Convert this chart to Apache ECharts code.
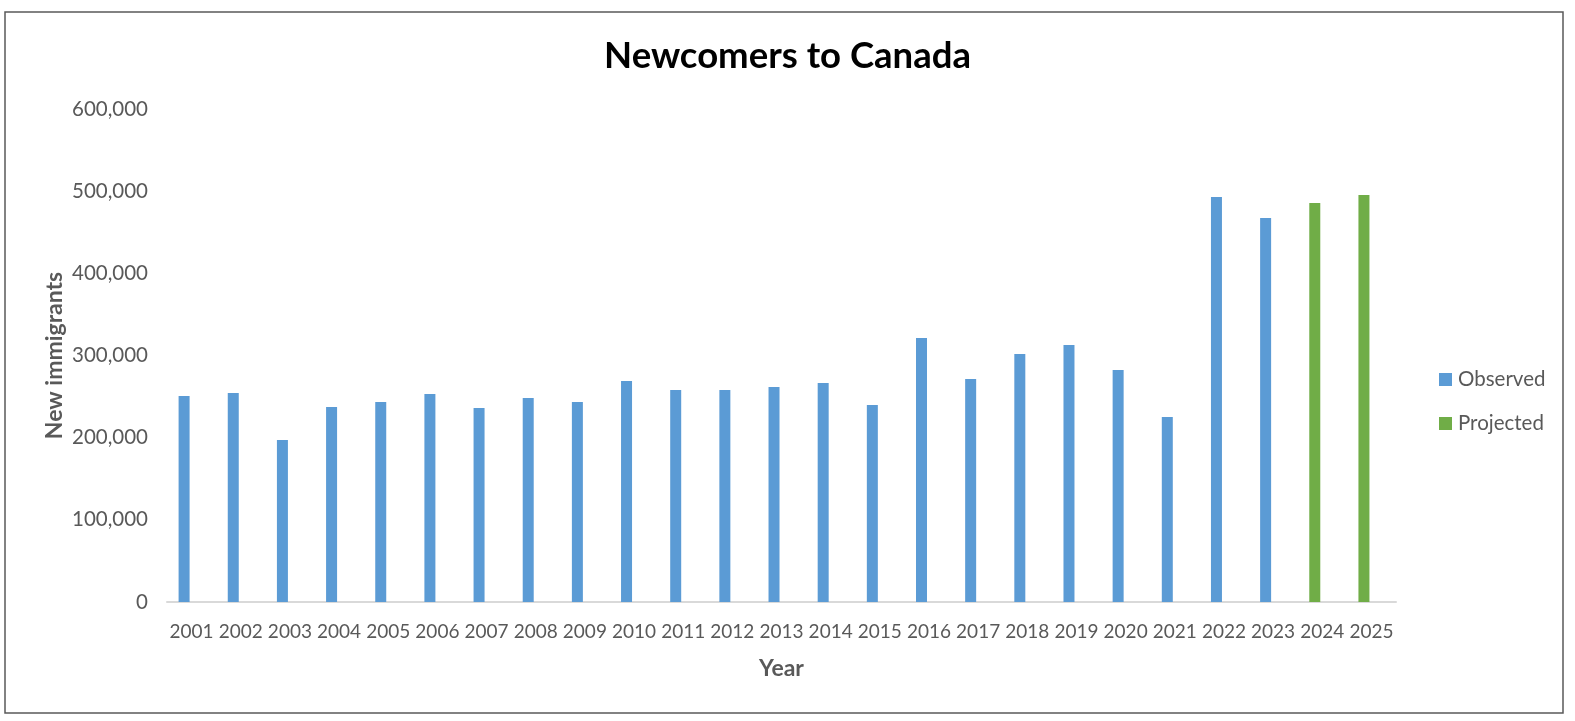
<!DOCTYPE html>
<html>
<head>
<meta charset="utf-8">
<script src="https://cdn.jsdelivr.net/npm/echarts@6/dist/echarts.min.js"></script>
<style>
html,body{margin:0;padding:0;background:#fff;}
#chart{width:1575px;height:721px;}
</style>
</head>
<body>
<div id="chart"></div>
<script>
const years = ['2001','2002','2003','2004','2005','2006','2007','2008','2009','2010','2011','2012','2013','2014','2015','2016','2017','2018','2019','2020','2021','2022','2023','2024','2025'];
const observed = [250700,254400,197200,237300,243400,253100,236100,248300,243400,269000,258000,258000,261700,266500,239700,321300,271400,301800,312800,282300,225100,492900,467300,null,null];
const projected = [null,null,null,null,null,null,null,null,null,null,null,null,null,null,null,null,null,null,null,null,null,null,null,485600,495300];
const yTicks = [0,100000,200000,300000,400000,500000,600000];

const chart = echarts.init(document.getElementById('chart'));
const fontFamily = 'Lato, "Open Sans", sans-serif';
chart.setOption({
  animation:false,
  textStyle:{fontFamily:fontFamily},
  title:{
    text:'Newcomers to Canada',
    left:'center', top:33,
    textStyle:{fontFamily:fontFamily,fontSize:36.5,fontWeight:'bold',color:'#000'}
  },
  graphic:[{
    type:'rect', silent:true,
    shape:{x:5,y:12,width:1558,height:701},
    style:{fill:'none',stroke:'#595959',lineWidth:1.5}
  }],
  legend:{
    orient:'vertical', left:1434, top:364,
    itemWidth:13, itemHeight:13, itemGap:23,
    icon:'rect',
    data:['Observed','Projected'],
    textStyle:{fontFamily:fontFamily,fontSize:20.5,color:'#595959',padding:[0,0,0,1]}
  },
  grid:{left:167,right:179,top:109,bottom:119,containLabel:false},
  xAxis:{
    type:'category', data:years,
    name:'Year', nameLocation:'middle', nameGap:55,
    nameTextStyle:{fontFamily:fontFamily,fontSize:23,fontWeight:'bold',color:'#595959'},
    axisLine:{lineStyle:{color:'#d9d9d9',width:2}},
    axisTick:{show:false},
    axisLabel:{fontFamily:fontFamily,fontSize:19,color:'#595959',margin:20,interval:0}
  },
  yAxis:{
    type:'value', min:0, max:600000, interval:100000,
    name:'New immigrants', nameLocation:'middle', nameGap:101, nameRotate:90,
    nameMoveOverlap:false,
    nameTextStyle:{fontFamily:fontFamily,fontSize:23,fontWeight:'bold',color:'#595959'},
    axisLine:{show:false}, axisTick:{show:false},
    splitLine:{show:false},
    axisLabel:{fontFamily:fontFamily,fontSize:20.5,color:'#595959',margin:19,
      formatter:function(v){return v.toLocaleString('en-US');}}
  },
  series:[
    {name:'Observed',type:'bar',stack:'a',data:observed,barWidth:11,barGap:'36%',itemStyle:{color:'#5b9bd5'}},
    {name:'Projected',type:'bar',stack:'a',data:projected,barWidth:11,barGap:'36%',itemStyle:{color:'#70ad47'}},
    {name:'_spacer',type:'bar',stack:'b',data:years.map(function(){return null;}),barWidth:11,barGap:'36%',itemStyle:{color:'transparent'},silent:true}
  ]
});
</script>
</body>
</html>
